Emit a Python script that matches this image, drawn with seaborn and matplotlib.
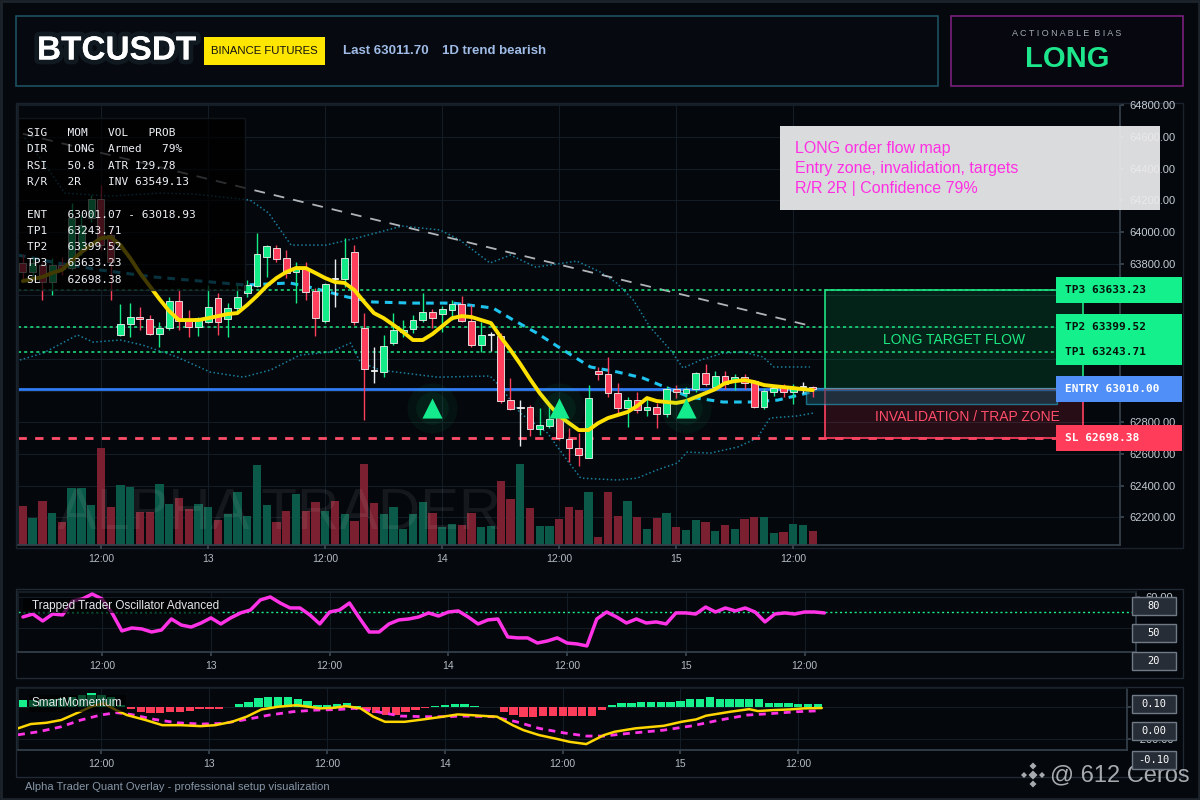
import numpy as np
import matplotlib
matplotlib.use("Agg")
import matplotlib.pyplot as plt
import matplotlib.patches as mpatches
import matplotlib.transforms as mtransforms
import matplotlib.patheffects as pe
import seaborn as sns

# hourly candles, first bar at 05:00 on day 12 (x axis = hours since day 12 00:00)
first_hour = 5
opens = [63805, 63748, 63792, 63685, 63792, 63773, 63887, 64088, 64209, 63981,
         63350, 63420, 63464, 63451, 63357, 63395, 63565, 63451, 63401, 63432,
         63584, 63451, 63521, 63616, 63660, 63843, 63899, 63836, 63748, 63767,
         63628, 63439, 63710, 63704, 63874, 63395, 63130, 63117, 63300, 63369,
         63388, 63445, 63496, 63483, 63508, 63546, 63439, 63287, 63350, 63344,
         62940, 62888, 62896, 62758, 62776, 62896, 62694, 62637, 62574, 63123,
         63104, 62984, 62890, 62940, 62877, 62896, 62852, 63009, 62984, 63009,
         63111, 63022, 63092, 63060, 63085, 63060, 62896, 62991, 63022, 62991,
         63022, 63024]
highs = [63862, 63843, 63811, 63836, 63843, 64183, 64108, 64234, 64297, 64026,
         63546, 63552, 63527, 63476, 63432, 63590, 63634, 63508, 63464, 63666,
         63616, 63552, 63672, 63699, 63994, 63918, 63918, 63887, 63811, 63811,
         63647, 63679, 63830, 63962, 63918, 63489, 63275, 63350, 63489, 63445,
         63476, 63616, 63515, 63533, 63571, 63597, 63540, 63432, 63369, 63363,
         63079, 62940, 62909, 62890, 62909, 62909, 62764, 62732, 63035, 63149,
         63212, 63047, 62959, 62991, 62959, 62922, 63029, 63035, 63022, 63117,
         63168, 63123, 63123, 63104, 63104, 63066, 63016, 63022, 63041, 63041,
         63054, 63028]
lows = [63699, 63723, 63571, 63603, 63729, 63761, 63855, 64063, 63887, 63571,
        63344, 63338, 63382, 63350, 63275, 63382, 63382, 63338, 63344, 63425,
        63350, 63338, 63496, 63590, 63655, 63717, 63811, 63710, 63552, 63571,
        63344, 63426, 63527, 63653, 63414, 62814, 63047, 63085, 63287, 63338,
        63363, 63432, 63395, 63369, 63445, 63432, 63275, 63243, 63250, 62922,
        62877, 62650, 62713, 62720, 62764, 62688, 62549, 62524, 62574, 63066,
        62959, 62858, 62770, 62858, 62840, 62764, 62834, 62953, 62959, 62991,
        63028, 63016, 63009, 63003, 63009, 62890, 62884, 62965, 62959, 62915,
        62984, 62959]
closes = [63748, 63805, 63685, 63792, 63770, 64088, 64044, 64209, 63918, 63811,
          63420, 63464, 63451, 63357, 63395, 63565, 63439, 63401, 63457, 63527,
          63432, 63521, 63590, 63666, 63862, 63912, 63830, 63742, 63767, 63622,
          63457, 63672, 63704, 63836, 63432, 63136, 63124, 63281, 63382, 63382,
          63445, 63496, 63457, 63515, 63546, 63439, 63287, 63350, 63352, 62934,
          62884, 62892, 62758, 62783, 62821, 62701, 62637, 62593, 62953, 63104,
          62984, 62890, 62940, 62877, 62896, 62852, 63009, 62991, 63009, 63111,
          63041, 63092, 63041, 63085, 63047, 62896, 62997, 63016, 62991, 63022,
          63024, 63012]
volumes = [390, 270, 440, 320, 230, 570, 570, 400, 970, 380,
           600, 580, 330, 330, 610, 410, 470, 360, 410, 380,
           250, 310, 530, 290, 800, 400, 230, 340, 510, 340,
           430, 340, 440, 310, 240, 810, 420, 310, 380, 160,
           310, 430, 320, 180, 210, 200, 320, 180, 190, 640,
           460, 810, 370, 190, 190, 260, 380, 350, 530, 80,
           530, 290, 440, 280, 160, 270, 320, 180, 150, 250,
           230, 140, 200, 160, 260, 280, 280, 120, 130, 210,
           200, 140]
ema_line = [63691, 63704, 63717, 63742, 63761, 63818, 63874, 63918, 63962, 63968,
            63918, 63836, 63742, 63660, 63578, 63502, 63445, 63445, 63445, 63457,
            63470, 63483, 63489, 63540, 63597, 63660, 63710, 63748, 63773, 63773,
            63742, 63710, 63685, 63679, 63634, 63559, 63489, 63457, 63414, 63369,
            63319, 63319, 63357, 63407, 63457, 63470, 63464, 63445, 63426, 63338,
            63256, 63168, 63073, 62984, 62909, 62840, 62795, 62751, 62751, 62795,
            62827, 62846, 62865, 62903, 62953, 62934, 62928, 62922, 62934, 62959,
            62984, 63009, 63047, 63060, 63066, 63054, 63035, 63028, 63022, 63016,
            63009, 63003]

band_mid_hours = [4.5, 8.5, 12.9, 18.4, 23.2, 27.8, 32.4, 34.8, 38.3, 40.9, 45.0, 49.1, 53.2,
                  55.3, 57.7, 60.1, 63.2, 66.0, 68.6, 71.1, 73.4, 76.8, 79.6, 82.4, 85.4, 86.3]
band_mid = [63855, 63805, 63761, 63717, 63691, 63666, 63679, 63647, 63590, 63559, 63552, 63552, 63521,
            63445, 63363, 63268, 63149, 63117, 63079, 63016, 62959, 62928, 62928, 62940, 62984, 63003]
band_up_hours = [5.2, 7.3, 9.3, 13.9, 19.1, 22.5, 28.3, 30.2, 32.5, 36.1, 39.2, 43.9, 47.8, 49.8, 52.9,
                 55.0, 57.6, 61.8, 64.2, 65.9, 67.6, 69.3, 71.4, 72.7, 74.5, 76.8, 78.9, 80.9, 82.0, 85.7]
band_up = [64593, 64423, 64246, 64227, 64246, 64240, 64202, 64120, 63918, 63918, 63962, 64038, 64013, 63950, 63805,
           63855, 63779, 63817, 63748, 63678, 63571, 63401, 63256, 63142, 63193, 63237, 63243, 63212, 63149, 63149]
band_low_hours = [4.7, 7.1, 10.6, 12.2, 15.0, 17.3, 20.8, 24.2, 27.6, 30.4, 33.4, 36.5, 38.6, 39.6, 41.6, 47.5, 52.9,
                  54.0, 56.0, 58.8, 60.8, 62.2, 66.0, 68.0, 70.0, 72.1, 73.1, 75.5, 78.3, 80.3, 81.6, 84.4, 86.1]
band_low = [63193, 63237, 63351, 63306, 63319, 63287, 63212, 63117, 63085, 63130, 63224, 63243, 63300, 63180, 63130, 63085, 63092,
            63022, 62858, 62732, 62562, 62448, 62436, 62448, 62499, 62543, 62612, 62606, 62644, 62701, 62827, 62840, 62859]

trend_hours = [5, 86]
trend_prices = [64620, 63405]
signal_hours = [47, 60, 73]
signal_prices = [62890, 62890, 62890]

tp1, tp2, tp3 = 63243.71, 63399.52, 63633.23
entry = 63010.00
stop = 62698.38
ent_band = [62918, 63018]

osc_values = [47.1, 49.0, 44.5, 49.0, 48.4, 57.4, 58.7, 61.9, 58.7, 49.7,
              38.1, 40.0, 39.4, 37.4, 38.7, 45.8, 41.9, 40.6, 43.2, 46.5,
              42.6, 46.5, 49.7, 51.6, 58.1, 60.0, 56.1, 52.9, 52.9, 48.4,
              42.6, 50.3, 51.6, 56.1, 46.5, 37.4, 37.4, 42.6, 45.2, 45.8,
              47.1, 49.7, 47.7, 50.3, 51.0, 47.1, 42.6, 45.2, 45.8, 34.2,
              33.6, 33.6, 30.3, 31.6, 33.6, 30.3, 29.7, 28.4, 45.8, 50.3,
              47.1, 43.2, 45.8, 43.2, 43.9, 42.6, 49.7, 49.7, 49.0, 53.5,
              50.3, 52.9, 51.0, 52.9, 50.3, 43.9, 49.0, 49.7, 49.0, 50.3,
              50.3, 49.7]
mom_hist = [42, 40, 45, 50, 55, 62, 73, 83, 73, 58,
            10, -17, -31, -42, -42, -31, -31, -27, -17, -17,
            -12, -2, 15, 29, 52, 62, 62, 58, 50, 37,
            10, 10, 17, 21, 4, -21, -42, -52, -52, -31,
            -21, -10, 4, 10, 17, 17, 4, -4, -4, -31,
            -52, -62, -62, -58, -58, -58, -58, -58, -58, -20,
            10, 25, 25, 31, 31, 31, 31, 37, 46, 46,
            58, 50, 50, 50, 50, 46, 25, 25, 25, 17,
            17, 17]
mom_fast_hours = [4.5, 5.8, 7.4, 8.9, 10.6, 12.1, 13.2, 14.5, 15.6, 17.5, 19.2, 21.1, 23.1, 24.6, 26.3, 27.8, 29.3, 31.0,
                  32.9, 34.1, 35.3, 36.8, 37.9, 39.4, 40.7, 41.9, 43.9, 45.8, 47.8, 49.3, 50.6, 52.1, 53.3, 54.9, 56.0,
                  57.6, 59.2, 60.7, 62.4, 64.2, 65.3, 67.4, 70.3, 72.1, 73.6, 74.6, 76.0, 77.1, 79.0, 79.9, 81.4, 83.1,
                  84.6, 86.4]
mom_fast = [-135, -108, -100, -83, -37, 4, 21, -21, -52, -83, -115, -115, -121, -115, -94, -62, -17, 0,
            10, 0, -10, -6, 4, -10, -62, -94, -94, -79, -62, -48, -52, -58, -62, -115, -146,
            -177, -198, -219, -233, -177, -156, -135, -119, -94, -79, -56, -42, -31, -15, -27, -21, -17,
            -10, -8]
mom_slow_hours = [4.5, 6.6, 8.9, 10.9, 12.9, 14.5, 16.0, 18.4, 20.7, 23.1, 25.4, 27.8, 30.1, 32.5, 34.8, 37.2, 38.8, 41.1,
                  43.5, 45.8, 48.2, 49.7, 52.9, 55.3, 57.6, 60.0, 62.4, 64.2, 66.6, 70.3, 73.2, 76.0, 78.8, 81.4, 83.8, 86.2]
mom_slow = [-175, -156, -125, -83, -52, -37, -48, -79, -100, -108, -104, -79, -52, -31, -21, -17, -10, -31,
            -58, -62, -62, -58, -62, -94, -135, -162, -183, -183, -167, -146, -119, -83, -52, -42, -31, -25]

tick_hours = [13, 24, 36, 48, 60, 72, 84]
tick_labels = ["12:00", "13", "12:00", "14", "12:00", "15", "12:00"]
price_ticks = list(range(62200, 64801, 200))
covered_ticks = [63000, 63200, 63400, 63600]  # sit under the price tags

info_rows = ["SIG   MOM   VOL   PROB",
             "DIR   LONG  Armed   79%",
             "RSI   50.8  ATR 129.78",
             "R/R   2R    INV 63549.13",
             "",
             "ENT   63001.07 - 63018.93",
             "TP1   63243.71",
             "TP2   63399.52",
             "TP3   63633.23",
             "SL    62698.38"]

# colours
BG = "#05080d"
PANEL = "#04070b"
GRID = "#141c25"
GREEN = "#14ec8a"
RED = "#ff3f5c"
TICK = "#c3cbd3"

sns.set_theme(style="dark", rc={"axes.facecolor": PANEL, "figure.facecolor": BG,
                                "axes.edgecolor": "#2a3541", "grid.color": GRID})
plt.rcParams["font.family"] = ["Liberation Sans", "DejaVu Sans"]

W, H = 1200, 800
fig = plt.figure(figsize=(12, 8), dpi=100, facecolor=BG)


def px_box(x0, y0, x1, y1, **kw):
    r = mpatches.Rectangle((x0 / W, 1 - y1 / H), (x1 - x0) / W, (y1 - y0) / H,
                           transform=fig.transFigure, **kw)
    fig.add_artist(r)
    return r


def px_text(x, y, s, **kw):
    return fig.text(x / W, 1 - y / H, s, **kw)


# frames
px_box(1, 1, 1199, 799, fc="none", ec="#1d242c", lw=2, zorder=-2)
px_box(16, 16, 938, 86, fc="#060a10", ec="#1d5060", lw=1.2, zorder=-1)
px_box(951, 16, 1183, 86, fc="#07080f", ec="#7a1f7c", lw=1.2, zorder=-1)
px_box(16, 103, 1183, 548, fc=PANEL, ec="#1a232d", lw=1, zorder=-1)
px_box(16, 589, 1183, 678, fc=PANEL, ec="#1f2a35", lw=1, zorder=-1)
px_box(16, 687, 1183, 777, fc=PANEL, ec="#1f2a35", lw=1, zorder=-1)

# header
t = px_text(37, 51, "BTCUSDT", fontsize=24, fontweight="bold", color="white", va="center")
t.set_path_effects([pe.withStroke(linewidth=7, foreground="#9fd8ff", alpha=0.07), pe.Normal()])
px_box(204, 37, 325, 65, fc="#ffe600", ec="none")
px_text(264.5, 51.5, "BINANCE FUTURES", fontsize=8.2, color="#111111", ha="center", va="center")
px_text(343, 51, "Last 63011.70", fontsize=9.5, fontweight="bold", color="#9fbbe6", va="center")
px_text(442, 51, "1D trend bearish", fontsize=9.5, fontweight="bold", color="#9fbbe6", va="center")
px_text(1067, 34, "A C T I O N A B L E   B I A S".replace("   ", "  "), fontsize=6.5, color="#a3abb4",
        ha="center", va="center")
px_text(1067, 59, "LONG", fontsize=21, fontweight="bold", color="#1ee68c", ha="center", va="center")

# ---------------- main price panel ----------------
ax = fig.add_axes([18 / W, 1 - 545 / H, 1102 / W, 441 / H])
ax.set_facecolor(PANEL)
ymin, ymax = 62026, 64808
ax.set_xlim(4.5, 117.5)
ax.set_ylim(ymin, ymax)

hours = np.arange(len(closes)) + first_hour
o = np.array(opens, float)
c = np.array(closes, float)
up = c >= o
doji = np.abs(c - o) <= 10
body_cols = np.where(doji, "#e8ecf0", np.where(up, GREEN, RED))

# volume in the bottom ~22% of the panel
vol = np.array(volumes, float)
vol_h = vol / vol.max() * 0.22 * (ymax - ymin)
ax.bar(hours, vol_h, bottom=ymin, width=0.85, color=np.where(up, "#0b5a49", "#7b2030"),
       edgecolor="none", linewidth=0, zorder=1)
ax.text(0.036, 0.07, "ALPHA TRADER", transform=ax.transAxes, fontsize=42,
        color="white", alpha=0.07, va="center", zorder=1.5)

# bands + trendline
sns.lineplot(x=band_up_hours, y=band_up, ax=ax, color="#1a7f9e", lw=1.1, linestyle=(0, (1, 1.6)),
             errorbar=None, zorder=2)
sns.lineplot(x=band_low_hours, y=band_low, ax=ax, color="#1a7f9e", lw=1.1, linestyle=(0, (1, 1.6)),
             errorbar=None, zorder=2)
sns.lineplot(x=band_mid_hours, y=band_mid, ax=ax, color="#1ec3ee", lw=2.2, linestyle=(0, (2.5, 2)),
             errorbar=None, zorder=2)
ax.plot(trend_hours, trend_prices, color="#cfd3d8", lw=1.3, ls=(0, (6, 5)), alpha=0.85, zorder=2)

# levels
x_end = 111
ax.hlines([tp1, tp2, tp3], 4.5, x_end, colors="#1ee882", lw=1.1, linestyles=[(0, (2, 2))], zorder=2.5)
ax.hlines(entry, 4.5, x_end, colors="#2f7cf6", lw=2, zorder=2.5)
ax.hlines(stop, 4.5, x_end, colors="#ff4d6a", lw=2, linestyles=[(0, (3, 3))], zorder=2.5)

# zones
zx0, zx1 = 87.3, 113.7
ax.add_patch(mpatches.Rectangle((zx0, entry), zx1 - zx0, tp3 - entry, fc="#00e676", alpha=0.13, ec="none", zorder=2))
ax.add_patch(mpatches.Rectangle((zx0, entry), zx1 - zx0, tp3 - entry, fc="none", ec="#1de382", lw=1.2, zorder=2.6))
ax.add_patch(mpatches.Rectangle((zx0, stop), zx1 - zx0, entry - stop, fc="#ff3355", alpha=0.14, ec="none", zorder=2))
ax.add_patch(mpatches.Rectangle((zx0, stop), zx1 - zx0, entry - stop, fc="none", ec="#ff4060", lw=1.2, zorder=2.6))
ax.add_patch(mpatches.Rectangle((85.3, ent_band[0]), x_end - 85.3, ent_band[1] - ent_band[0],
                                fc="#1d4b5c", alpha=0.55, ec="#28b8dc", lw=1, zorder=2.7))
ax.text((zx0 + zx1) / 2, (tp1 + tp2) / 2 - 5, "LONG TARGET FLOW", color="#1ee882", fontsize=10,
        ha="center", va="center", zorder=3)
ax.text((zx0 + zx1) / 2 + 1.4, (entry + stop) / 2 - 20, "INVALIDATION / TRAP ZONE", color="#ff4d6a",
        fontsize=10, ha="center", va="center", zorder=3)

# candles
ax.vlines(hours, lows, highs, colors=body_cols, lw=1, zorder=3)
ax.bar(hours, np.maximum(np.abs(c - o), 6), bottom=np.minimum(o, c), width=0.7, color=body_cols,
       edgecolor="#f2f2f2", linewidth=0.6, zorder=3.5)
sns.lineplot(x=hours, y=ema_line, ax=ax, color="#ffe100", lw=2.8, errorbar=None, zorder=4)

# signals
ax.scatter(signal_hours, signal_prices, marker="o", s=1300, color=GREEN, alpha=0.05, lw=0, zorder=4)
ax.scatter(signal_hours, signal_prices, marker="o", s=550, color=GREEN, alpha=0.06, lw=0, zorder=4)
ax.scatter(signal_hours, signal_prices, marker="^", s=210, color="#14eb8c", lw=0, zorder=5)

# price tags on the right edge
bt = mtransforms.blended_transform_factory(ax.transAxes, ax.transData)
pad = 82


def price_tag(y0, y1, fill, rows, txt_col):
    ax.add_patch(mpatches.Rectangle((0.9419, y0), 0.1144, y1 - y0, transform=bt, fc=fill, ec="none",
                                    clip_on=False, zorder=6))
    for yy, s in rows:
        ax.text(0.9501, yy, s, transform=bt, family="DejaVu Sans Mono", fontweight="bold", fontsize=8,
                color=txt_col, va="center", clip_on=False, zorder=7)


price_tag(tp3 - pad, tp3 + pad, "#14f08c", [(tp3, "TP3 63633.23")], "#06140c")
price_tag(tp1 - pad, tp2 + pad, "#14f08c", [(tp2, "TP2 63399.52"), (tp1, "TP1 63243.71")], "#06140c")
price_tag(entry - pad, entry + pad, "#4f8ff7", [(entry, "ENTRY 63010.00")], "white")
price_tag(stop - pad, stop + pad, "#ff3d5a", [(stop, "SL 62698.38")], "white")

# axes styling
ax.yaxis.tick_right()
ax.set_yticks(price_ticks)
ax.set_yticklabels(["" if v in covered_ticks else f"{v:.2f}" for v in price_ticks])
ax.set_xticks(tick_hours)
ax.set_xticklabels(tick_labels)
ax.grid(True, color=GRID, lw=0.8)
ax.set_xlabel("")
ax.set_ylabel("")
ax.tick_params(axis="y", right=True, left=False, labelright=True, labelleft=False,
               colors="#3a4652", labelcolor=TICK, labelsize=8, length=3)
ax.tick_params(axis="x", bottom=True, colors="#3a4652", labelcolor="#b4bcc4", labelsize=7.5, length=3)
for s in ["top", "left"]:
    ax.spines[s].set_color("#18212a")
for s in ["bottom", "right"]:
    ax.spines[s].set_color("#34404c")

# overlays on the price panel
px_box(18, 118, 245, 290, fc="black", alpha=0.74, ec="#161d25", lw=1, zorder=4)
for k, row in enumerate(info_rows):
    px_text(27, 133 + k * 16.3, row, family="DejaVu Sans Mono", fontsize=8, color="#eef2f6",
            va="center", zorder=5)
px_box(780, 126, 1160, 210, fc="#ececee", alpha=0.93, ec="none", zorder=4)
for k, row in enumerate(["LONG order flow map", "Entry zone, invalidation, targets",
                         "R/R 2R | Confidence 79%"]):
    px_text(795, 148 + k * 20, row, fontsize=11.5, color="#ff2fe3", va="center", zorder=5)

# ---------------- oscillator ----------------
ax2 = fig.add_axes([18 / W, 1 - 652 / H, 1118 / W, 60 / H])
ax2.set_facecolor(PANEL)
ax2.set_xlim(4.5, 117.5)
ax2.set_ylim(24.5, 63.2)
ax2.axhline(50, color="#19f08c", lw=1, ls=(0, (1.5, 2)), zorder=2)
sns.lineplot(x=hours, y=osc_values, ax=ax2, color="#ff33e6", lw=2.5, errorbar=None, zorder=3)

# ---------------- momentum ----------------
ax3 = fig.add_axes([18 / W, 1 - 750 / H, 1109 / W, 62 / H])
ax3.set_facecolor(PANEL)
ax3.set_xlim(4.5, 117.5)
ax3.set_ylim(-270, 117)
mh = np.array(mom_hist, float)
ax3.bar(hours, mh, width=0.85, color=np.where(mh >= 0, "#16f08c", "#ff3d5a"),
        edgecolor="none", linewidth=0, zorder=2)
sns.lineplot(x=mom_slow_hours, y=mom_slow, ax=ax3, color="#ff33e6", lw=2, linestyle=(0, (2.5, 2)),
             errorbar=None, zorder=3)
sns.lineplot(x=mom_fast_hours, y=mom_fast, ax=ax3, color="#ffd600", lw=1.8, errorbar=None, zorder=4)

for a, yt in [(ax2, [40, 60]), (ax3, [-200, 0])]:
    a.yaxis.tick_right()
    a.set_yticks(yt)
    a.set_yticklabels([f"{v:.2f}" for v in yt])
    a.set_xticks(tick_hours)
    a.set_xticklabels(tick_labels)
    a.grid(True, color=GRID, lw=0.8)
    a.set_xlabel("")
    a.set_ylabel("")
    a.tick_params(axis="y", right=True, left=False, labelright=True, labelleft=False,
                  colors="#3a4652", labelcolor=TICK, labelsize=8, length=3)
    a.tick_params(axis="x", bottom=True, colors="#3a4652", labelcolor="#b4bcc4", labelsize=7.5, length=3)
    for s in ["top", "left"]:
        a.spines[s].set_color("#18212a")
    for s in ["bottom", "right"]:
        a.spines[s].set_color("#34404c")

# panel captions
px_box(23, 598, 220, 613, fc="black", alpha=0.68, ec="none", zorder=4)
px_text(32, 605.5, "Trapped Trader Oscillator Advanced", fontsize=8.5, color="#e4e8ec", va="center", zorder=5)
px_box(29, 695, 126, 712, fc="black", alpha=0.68, ec="none", zorder=4)
px_text(32, 703.5, "SmartMomentum", fontsize=8.5, color="#e4e8ec", va="center", zorder=5)

# value tags right of the lower panels
for yc, s in [(606, "80"), (633, "50"), (661, "20"), (704, "0.10"), (731, "0.00"), (760, "-0.10")]:
    px_box(1132, yc - 9, 1176, yc + 9, fc="#272d36", ec="#6f7a86", lw=1, zorder=5)
    px_text(1154, yc, s, family="DejaVu Sans Mono", fontsize=7.5, color="white", ha="center",
            va="center", zorder=6)

# footer + watermark
px_text(25, 787, "Alpha Trader Quant Overlay - professional setup visualization", fontsize=8,
        color="#8796a6", va="center")
px_text(1050, 775, "@ 612 Ceros", fontsize=17, color="#c4c8cc", alpha=0.85, va="center")
lx, ly = 1033 / 100, (800 - 775) / 100
for dx, dy, r in [(0, 0, 0.045), (-0.09, 0, 0.03), (0.09, 0, 0.03), (0, 0.09, 0.035), (0, -0.09, 0.035)]:
    fig.add_artist(mpatches.RegularPolygon((lx + dx, ly + dy), numVertices=4, radius=r,
                                           transform=fig.dpi_scale_trans, fc="#c4c8cc", ec="none", alpha=0.85))

fig.savefig("out.png", dpi=100, facecolor=BG)
